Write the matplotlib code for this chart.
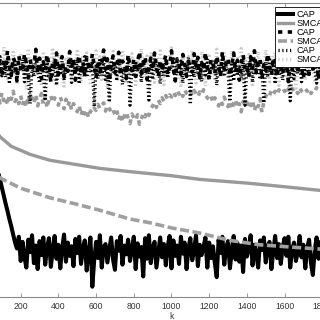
import numpy as np
import matplotlib
matplotlib.use("Agg")
import matplotlib.pyplot as plt

plt.rcParams['font.family'] = ['Liberation Sans', 'DejaVu Sans']

# ---- iteration grid for the noisy curves (every 10 iterations) ----
k = np.arange(0, 2001, 10)

# CAP (solid): fast drop, then noise floor
cap_solid = [-9.5, -10.6, -11.6, -12.7, -13.8, -14.8, -15.9, -16.9, -18.0, -19.0,
             -20.1, -21.2, -22.3, -23.3, -24.4, -25.4, -26.5, -27.6,
             -28.4, -26.8, -30.1, -27.5, -29.6, -31.0, -27.2, -28.9, -26.6, -30.4,
             -28.0, -31.2, -27.4, -29.3, -26.9, -30.6, -28.2, -27.0, -30.9, -28.6,
             -26.7, -29.8, -27.9, -31.1, -28.3, -26.5, -30.2, -27.6, -29.4, -28.1,
             -30.8, -27.1, -29.0, -26.8, -30.5, -28.4, -27.3, -31.4, -28.8, -26.9,
             -33.6, -30.0, -27.5, -29.7, -26.6, -31.0, -28.2, -27.8, -30.3, -28.6,
             -26.9, -29.9, -31.3, -27.4, -28.7, -26.7, -30.6, -28.0, -29.2, -27.2,
             -30.1, -28.5, -26.8, -31.2, -27.7, -29.5, -28.2, -32.2, -27.0, -29.8,
             -26.6, -30.4, -28.3, -27.5, -31.0, -28.9, -26.9, -29.6, -27.8, -30.7,
             -28.1, -26.7, -31.1, -27.3, -29.4, -28.0, -30.5, -26.8, -29.1, -27.6,
             -31.2, -28.4, -27.0, -30.0, -28.7, -26.6, -30.8, -27.9, -29.3, -28.2,
             -26.9, -31.0, -27.6, -29.7, -28.1, -30.4, -32.3, -27.2, -29.0, -26.8,
             -30.6, -28.3, -27.4, -31.1, -28.8, -26.7, -29.9, -27.7, -30.2, -28.0,
             -31.6, -27.1, -29.5, -28.4, -26.6, -30.7, -27.9, -29.2, -31.0, -27.3,
             -28.6, -26.9, -30.3, -28.1, -27.5, -31.2, -28.8, -26.7, -29.7, -27.8,
             -30.5, -28.2, -27.0, -29.4, -26.8, -31.0, -28.5, -27.6, -30.1, -28.9,
             -26.7, -29.6, -27.9, -31.1, -28.3, -27.2, -30.4, -32.0, -28.6, -26.9,
             -29.8, -27.5, -30.6, -28.0, -26.8, -31.2, -28.7, -27.3, -29.9, -28.4,
             -26.6, -30.3, -27.8, -29.1, -31.0, -28.2, -27.1, -30.5, -28.9, -27.4,
             -29.6, -28.1, -30.2]

# CAP (dashed) near the top
cap_dash = [-3.0, -4.7, -2.1, -3.9, -5.4, -2.6, -3.3, -4.5, -1.7, -3.6,
            -5.0, -2.8, -4.1, -1.5, -3.7, -4.9, -2.4, -3.1, -5.6, -2.2,
            -3.8, -4.4, -1.9, -3.2, -5.2, -2.7, -4.0, -3.4, -1.3, -4.6,
            -2.5, -5.3, -3.0, -4.2, -2.0, -3.6, -5.8, -2.9, -3.9, -1.8,
            -4.8, -3.1, -2.3, -5.1, -3.5, -4.3, -1.6, -3.8, -2.6, -5.5,
            -3.3, -2.1, -4.7, -3.0, -5.0, -2.4, -3.7, -4.1, -1.9, -3.5,
            -5.2, -2.8, -4.4, -3.2, -1.4, -4.0, -2.6, -5.7, -3.4, -2.2,
            -4.5, -3.6, -1.7, -4.9, -2.9, -3.3, -5.3, -2.0, -3.8, -4.2,
            -2.7, -5.0, -3.1, -1.6, -4.6, -3.5, -2.3, -5.4, -3.9, -2.5,
            -4.1, -1.8, -3.6, -5.1, -2.8, -4.3, -3.0, -2.1, -4.8, -3.7,
            -1.5, -4.0, -5.6, -2.6, -3.4, -4.7, -2.0, -3.2, -5.0, -2.9,
            -3.8, -4.4, -1.9, -3.6, -2.4, -5.2, -3.1, -4.1, -1.7, -3.9,
            -5.4, -2.7, -3.3, -4.6, -2.2, -3.7, -5.0, -1.6, -4.2, -3.0,
            -2.5, -4.9, -3.5, -1.8, -4.4, -2.8, -5.5, -3.2, -2.0, -4.0,
            -3.6, -5.1, -2.3, -3.9, -1.5, -4.5, -3.0, -2.6, -5.3, -3.4,
            -4.2, -1.9, -3.7, -4.8, -2.4, -3.1, -5.0, -2.1, -3.8, -4.6,
            -2.9, -3.3, -5.7, -2.5, -4.1, -1.7, -3.5, -4.4, -2.2, -3.9,
            -5.2, -2.8, -3.6, -4.7, -1.6, -4.0, -3.2, -2.4, -5.4, -3.0,
            -4.3, -2.0, -3.8, -5.0, -2.7, -3.4, -1.8, -4.6, -3.1, -2.5,
            -4.9, -3.5, -2.2, -4.2, -3.7, -1.5, -5.1, -2.9, -3.3, -4.5,
            -2.6]

# CAP (dotted) near the top, with dips
cap_dot = [-4.0, -2.5, -5.4, -3.3, -6.1, -2.8, -4.8, -3.0, -5.6, -2.3,
           -4.9, -3.7, -5.1, -2.6, -6.0, -3.4, -4.5, -2.9, -5.3, -3.8,
           -4.2, -2.7, -5.7, -3.1, -4.6, -8.7, -3.5, -5.0, -2.4, -4.3,
           -5.9, -3.2, -4.0, -8.3, -2.8, -5.2, -3.6, -4.7, -2.5, -6.2,
           -3.4, -4.8, -2.9, -5.5, -3.9, -4.1, -2.6, -5.8, -3.3, -4.4,
           -2.7, -6.0, -3.5, -4.6, -2.3, -5.1, -3.8, -4.2, -2.9, -9.1,
           -3.6, -5.3, -2.5, -4.9, -3.1, -5.7, -4.0, -8.5, -2.8, -4.5,
           -3.3, -5.6, -2.6, -4.1, -6.1, -3.7, -4.8, -2.4, -8.9, -3.5,
           -5.0, -2.9, -4.4, -3.2, -5.8, -2.7, -4.6, -3.9, -8.2, -3.0,
           -5.4, -2.5, -4.3, -3.6, -6.0, -3.1, -4.9, -2.8, -5.2, -3.7,
           -4.0, -2.6, -5.5, -3.3, -4.7, -2.9, -5.9, -3.8, -4.2, -2.4,
           -8.8, -3.5, -5.1, -2.7, -4.5, -3.2, -5.7, -3.0, -4.8, -2.6,
           -5.3, -3.9, -4.1, -2.8, -6.2, -3.4, -4.6, -2.5, -5.0, -3.6,
           -4.3, -8.4, -3.1, -5.6, -2.9, -4.9, -3.7, -5.2, -2.6, -8.9,
           -3.2, -4.7, -2.4, -5.8, -3.5, -4.0, -2.8, -5.4, -3.9, -8.6,
           -3.0, -5.1, -2.7, -4.4, -3.3, -6.0, -2.5, -4.8, -3.6, -5.5,
           -2.9, -4.2, -3.8, -8.3, -3.1, -5.3, -2.6, -4.6, -3.4, -5.7,
           -2.8, -4.9, -3.2, -5.0, -2.4, -4.1, -3.7, -5.9, -3.0, -4.5,
           -2.6, -5.4, -3.5, -4.3, -2.9, -5.6, -3.3, -4.7, -2.7, -5.1,
           -3.8, -4.0, -2.5, -5.8, -3.1, -4.6, -3.6, -5.2, -2.8, -4.4,
           -3.4]

# SMCAP (dotted, light gray) near the top
smc_dot = [-2.1, -4.0, -1.3, -4.8, -2.9, -5.6, -1.5, -3.4, -6.5, -2.3,
           -4.2, -1.0, -3.7, -5.3, -2.6, -4.9, -1.4, -3.1, -6.1, -2.8,
           -1.9, -4.5, -3.3, -6.8, -1.2, -3.9, -2.5, -5.1, -1.8, -4.3,
           -3.0, -6.3, -1.6, -3.6, -5.0, -2.2, -4.0, -1.1, -5.7, -2.7,
           -3.5, -2.0, -4.6, -6.6, -2.4, -3.8, -1.7, -5.2, -2.9, -4.1,
           -1.3, -3.2, -5.9, -2.1, -4.4, -1.8, -3.7, -6.2, -2.6, -4.0,
           -1.5, -4.8, -2.3, -5.4, -2.0, -3.5, -6.7, -2.8, -4.2, -1.6,
           -3.3, -5.5, -2.1, -4.5, -1.4, -3.9, -6.0, -2.5, -4.7, -1.9,
           -3.1, -6.4, -2.7, -4.3, -1.2, -3.6, -5.1, -2.2, -4.9, -1.7,
           -3.8, -5.8, -2.4, -4.1, -1.5, -3.4, -6.1, -2.9, -4.6, -2.0,
           -1.1, -4.4, -2.6, -5.3, -3.0, -6.5, -1.8, -3.7, -4.8, -2.3,
           -4.0, -1.4, -3.5, -5.9, -2.1, -4.3, -1.6, -3.2, -6.3, -2.8,
           -1.9, -4.7, -3.1, -5.6, -1.3, -3.8, -2.4, -5.0, -1.7, -4.2,
           -2.9, -6.0, -1.5, -3.6, -4.9, -2.2, -3.9, -1.2, -5.4, -2.6,
           -3.4, -2.0, -4.5, -6.4, -2.5, -3.7, -1.6, -5.1, -2.8, -4.0,
           -1.4, -3.3, -5.7, -2.2, -4.4, -1.7, -3.8, -6.2, -2.6, -4.1,
           -1.6, -4.9, -2.3, -5.2, -1.9, -3.5, -6.6, -2.7, -4.3, -1.5,
           -3.2, -5.5, -2.0, -4.6, -1.3, -3.9, -5.8, -2.4, -4.7, -1.8,
           -3.0, -6.2, -2.6, -4.2, -1.1, -3.6, -5.0, -2.1, -4.8, -1.6,
           -3.7, -5.6, -2.3, -4.0, -1.4, -3.3, -6.0, -2.8, -4.5, -1.9,
           -3.5]

# gray dashed noisy curve just under the top band
smc_dash_noisy = [-7.4, -8.5, -7.1, -8.2, -7.7, -8.8, -7.3, -8.0, -7.6, -8.6,
                  -7.2, -8.3, -7.8, -8.9, -7.5, -8.1, -7.0, -8.4, -7.9, -8.7,
                  -7.6, -8.9, -8.0, -9.2, -7.5, -8.5, -7.9, -8.7, -7.4, -9.0,
                  -8.2, -7.3, -8.8, -7.7, -9.3, -8.1, -7.6, -8.6, -7.9, -8.4,
                  -8.9, -7.8, -8.5, -9.4, -8.1, -9.0, -8.3, -9.6, -8.7, -9.2,
                  -9.8, -8.9, -10.3, -9.4, -10.1, -9.5, -10.6, -9.7, -10.0, -9.3,
                  -9.6, -8.8, -9.4, -9.0, -8.6, -9.7, -8.9, -9.3, -9.9, -9.5,
                  -10.2, -9.6, -10.9, -10.0, -11.2, -10.4, -9.8, -10.7, -11.4, -10.1,
                  -10.6, -11.0, -10.2, -11.5, -10.8, -10.0, -10.5, -9.7, -10.3, -9.4,
                  -9.0, -8.5, -9.2, -8.2, -8.7, -7.9, -8.4, -7.6, -8.1, -7.5,
                  -7.8, -7.1, -7.6, -6.9, -7.4, -7.0, -7.7, -6.8, -7.3, -7.5,
                  -7.0, -7.6, -6.9, -7.3, -7.8, -7.1, -7.5, -6.8, -7.4, -7.9,
                  -8.1, -7.6, -8.6, -7.9, -8.4, -9.0, -8.2, -8.8, -7.8, -8.5,
                  -9.1, -8.3, -9.5, -8.6, -8.1, -9.3, -8.7, -9.8, -8.4, -9.0,
                  -8.5, -9.4, -8.8, -8.2, -9.7, -8.6, -9.1, -8.0, -9.9, -8.4,
                  -7.7, -7.2, -7.6, -6.9, -7.4, -7.0, -7.5, -6.8, -7.3, -7.1,
                  -6.9, -7.4, -6.7, -7.2, -6.6, -7.1, -6.8, -7.3, -6.5, -7.0,
                  -7.2, -6.7, -7.0, -6.6, -7.3, -6.9, -7.1, -6.5, -7.0, -6.8,
                  -6.9, -7.2, -6.6, -7.0, -6.8, -7.3, -6.7, -7.1, -6.6, -6.9,
                  -7.1, -6.8, -7.0, -6.6, -7.2, -6.9, -6.7, -7.0, -6.8, -7.1,
                  -6.9]

# smooth SMCAP curves
k_smc_solid = [0, 50, 90, 150, 250, 355, 500, 620, 800, 1000, 1150, 1400, 1600, 1790, 2000]
smc_solid = [-9.6, -11.6, -13.2, -14.5, -15.6, -16.4, -17.0, -17.5, -18.0, -18.5,
             -19.0, -19.5, -20.0, -20.5, -20.9]

k_smc_dash = [0, 40, 90, 200, 355, 500, 620, 780, 886, 1000, 1150, 1310, 1470, 1630, 1800, 2000]
smc_dash = [-15.0, -17.0, -18.8, -20.2, -21.5, -22.4, -23.2, -24.4, -24.9, -25.6,
            -26.3, -27.3, -27.9, -28.2, -28.5, -28.8]

xticks = [200, 400, 600, 800, 1000, 1200, 1400, 1600, 1800]
labels = ['CAP', 'SMCAP', 'CAP', 'SMCAP', 'CAP', 'SMCAP']

# ---- Figure ----
fig = plt.figure(figsize=(3.2, 3.2), dpi=100)
ax = fig.add_axes([-0.0531, 0.0719, 1.178, 0.9187])

dash_sq = (0, (1.2, 1.5))
dash_long = (0, (2.5, 1.0))
dot = (0, (0.35, 0.8))

h1, = ax.plot(k, cap_solid, color='black', lw=2.9)
h2, = ax.plot(k_smc_solid, smc_solid, color='#999999', lw=2.4)
ax.plot(k, smc_dash_noisy, color='#9a9a9a', lw=2.6, ls=dash_sq)
h4, = ax.plot(k_smc_dash, smc_dash, color='#a0a0a0', lw=2.6, ls=dash_long)
h6, = ax.plot(k, smc_dot, color='#c8c8c8', lw=2.4, ls=dot)
h3, = ax.plot(k, cap_dash, color='black', lw=2.6, ls=dash_sq)
h5, = ax.plot(k, cap_dot, color='black', lw=2.4, ls=dot)

ax.set_xlim(0, 2000)
ax.set_ylim(-35, 5)
ax.set_xticks(xticks)
ax.set_yticks([])
ax.tick_params(axis='x', direction='in', length=3, width=0.6, color='#888888',
               labelsize=6.2, labelcolor='#333333', pad=3.5, top=True)
for sp in ax.spines.values():
    sp.set_color('#888888')
    sp.set_linewidth(0.8)
ax.set_xlabel('k', fontsize=6.2, color='#333333', labelpad=0.5)

leg = ax.legend([h1, h2, h3, h4, h5, h6], labels,
                loc='upper left', bbox_to_anchor=(275 / 320, 1 - 7 / 320),
                bbox_transform=fig.transFigure, borderaxespad=0,
                fontsize=6.6, labelspacing=0.0,
                handlelength=1.7, handletextpad=0.35, borderpad=0.3,
                fancybox=False, framealpha=1, edgecolor='black')
leg.get_frame().set_linewidth(0.6)

fig.savefig('out.png', dpi=100)
